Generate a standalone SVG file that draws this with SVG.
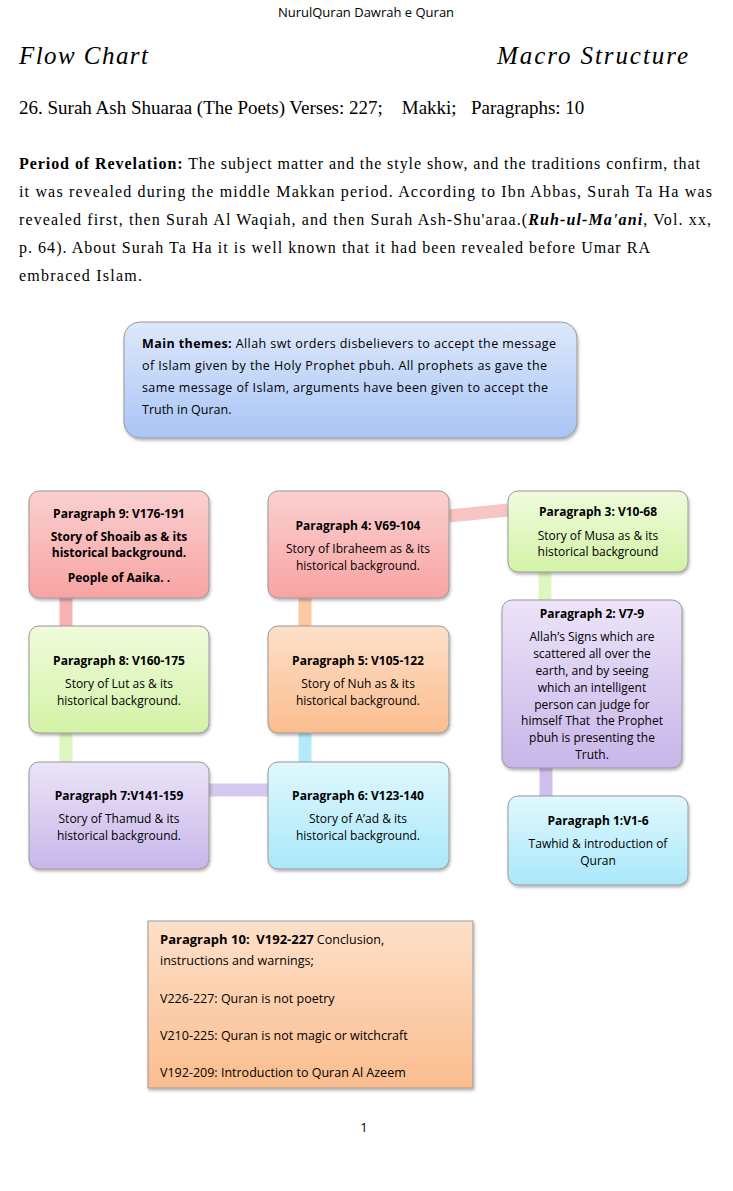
<svg xmlns="http://www.w3.org/2000/svg" width="733" height="1191" viewBox="0 0 733 1191">
<defs>
<linearGradient id="gBlue" x1="0" y1="0" x2="0" y2="1"><stop offset="0" stop-color="#dde8fb"/><stop offset="1" stop-color="#a9c5f5"/></linearGradient>
<linearGradient id="gRed" x1="0" y1="0" x2="0" y2="1"><stop offset="0" stop-color="#fbd0d0"/><stop offset="1" stop-color="#f8a3a3"/></linearGradient>
<linearGradient id="gGreen" x1="0" y1="0" x2="0" y2="1"><stop offset="0" stop-color="#f0fbdc"/><stop offset="1" stop-color="#d3f3a6"/></linearGradient>
<linearGradient id="gOrange" x1="0" y1="0" x2="0" y2="1"><stop offset="0" stop-color="#fde0c9"/><stop offset="1" stop-color="#fbbd8e"/></linearGradient>
<linearGradient id="gPurple" x1="0" y1="0" x2="0" y2="1"><stop offset="0" stop-color="#ece4f8"/><stop offset="1" stop-color="#c8b6ea"/></linearGradient>
<linearGradient id="gCyan" x1="0" y1="0" x2="0" y2="1"><stop offset="0" stop-color="#e0f8fe"/><stop offset="1" stop-color="#a9e8fa"/></linearGradient>
<filter id="sh" x="-10%" y="-10%" width="125%" height="130%"><feDropShadow dx="1" dy="2" stdDeviation="1.5" flood-color="#000" flood-opacity="0.3"/></filter>
</defs>
<style>
.hdr{font-family:"Open Sans","Liberation Sans",sans-serif;font-size:13px;fill:#000}
.cur{font-family:"Liberation Serif",serif;font-style:italic;font-size:25px;fill:#000}
.ser{font-family:"Liberation Serif",serif;font-size:19px;fill:#000;white-space:pre}
.body{font-family:"Liberation Serif",serif;font-size:16px;fill:#000}
.t{font-family:"Open Sans","Liberation Sans",sans-serif;font-size:12px;fill:#000;text-anchor:middle}
.tb{font-weight:bold}
.l{font-family:"Open Sans","Liberation Sans",sans-serif;font-size:12.5px;fill:#000}
.box{stroke:#999;stroke-width:1;filter:url(#sh)}
</style>
<rect width="733" height="1191" fill="#fff"/>
<text class="hdr" x="366" y="17" text-anchor="middle">NurulQuran Dawrah e Quran</text>
<text class="cur" x="19" y="64" textLength="129">Flow Chart</text>
<text class="cur" x="497" y="64" textLength="191">Macro Structure</text>
<text class="ser" x="19" y="114" xml:space="preserve">26. Surah Ash Shuaraa (The Poets) Verses: 227;    Makki;   Paragraphs: 10</text>
<text class="body" x="19" y="169" textLength="681"><tspan font-weight="bold">Period of Revelation:</tspan> The subject matter and the style show, and the traditions confirm, that</text>
<text class="body" x="19" y="197" textLength="693">it was revealed during the middle Makkan period. According to Ibn Abbas, Surah Ta Ha was</text>
<text class="body" x="19" y="225" textLength="692">revealed first, then Surah Al Waqiah, and then Surah Ash-Shu'araa.(<tspan font-style="italic" font-weight="bold">Ruh-ul-Ma'ani</tspan>, Vol. xx,</text>
<text class="body" x="19" y="253" textLength="631">p. 64). About Surah Ta Ha it is well known that it had been revealed before Umar RA</text>
<text class="body" x="19" y="281" textLength="123">embraced Islam.</text>

<g id="connectors">
<line x1="66" y1="598" x2="66" y2="626" stroke="#f7b3b3" stroke-width="13"/>
<line x1="66" y1="733" x2="66" y2="762" stroke="#def7c0" stroke-width="13"/>
<line x1="305" y1="598" x2="305" y2="626" stroke="#fbc9a3" stroke-width="13"/>
<line x1="305" y1="733" x2="305" y2="762" stroke="#b3eaf9" stroke-width="13"/>
<line x1="209" y1="790" x2="268" y2="790" stroke="#d6c9f0" stroke-width="13"/>
<line x1="449" y1="516" x2="508" y2="510" stroke="#f8c4c4" stroke-width="13"/>
<line x1="545" y1="572" x2="545" y2="600" stroke="#def7c0" stroke-width="13"/>
<line x1="546" y1="768" x2="546" y2="796" stroke="#cfbfee" stroke-width="13"/>
</g>

<g id="main">
<rect class="box" x="124" y="322" width="453" height="116" rx="16" fill="url(#gBlue)"/>
<text class="l" x="142" y="348" textLength="414"><tspan font-weight="bold">Main themes:</tspan>  Allah swt orders disbelievers to accept the message</text>
<text class="l" x="142" y="370" textLength="405">of Islam given by the Holy Prophet pbuh. All prophets as gave the</text>
<text class="l" x="142" y="392" textLength="406">same message of Islam, arguments have been given to accept the</text>
<text class="l" x="142" y="414">Truth in Quran.</text>
</g>

<g id="p9">
<rect class="box" x="29" y="491" width="180" height="107" rx="10" fill="url(#gRed)"/>
<text class="t tb" x="119" y="518">Paragraph 9: V176-191</text>
<text class="t tb" x="119" y="541">Story of Shoaib as &amp; its</text>
<text class="t tb" x="119" y="557">historical background.</text>
<text class="t tb" x="119" y="582">People of Aaika. .</text>
</g>
<g id="p4">
<rect class="box" x="268" y="491" width="181" height="107" rx="10" fill="url(#gRed)"/>
<text class="t tb" x="358" y="530">Paragraph 4: V69-104</text>
<text class="t" x="358" y="553">Story of Ibraheem as &amp; its</text>
<text class="t" x="358" y="570">historical background.</text>
</g>
<g id="p3">
<rect class="box" x="508" y="491" width="180" height="81" rx="10" fill="url(#gGreen)"/>
<text class="t tb" x="598" y="516">Paragraph 3: V10-68</text>
<text class="t" x="598" y="540">Story of Musa as &amp; its</text>
<text class="t" x="598" y="556">historical background</text>
</g>
<g id="p8">
<rect class="box" x="29" y="626" width="180" height="107" rx="10" fill="url(#gGreen)"/>
<text class="t tb" x="119" y="665">Paragraph 8: V160-175</text>
<text class="t" x="119" y="688">Story of Lut as &amp; its</text>
<text class="t" x="119" y="705">historical background.</text>
</g>
<g id="p5">
<rect class="box" x="268" y="626" width="181" height="107" rx="10" fill="url(#gOrange)"/>
<text class="t tb" x="358" y="665">Paragraph 5: V105-122</text>
<text class="t" x="358" y="688">Story of Nuh as &amp; its</text>
<text class="t" x="358" y="705">historical background.</text>
</g>
<g id="p2">
<rect class="box" x="502" y="600" width="180" height="168" rx="10" fill="url(#gPurple)"/>
<text class="t tb" x="592" y="618">Paragraph 2: V7-9</text>
<text class="t" x="592" y="641">Allah’s Signs which are</text>
<text class="t" x="592" y="658">scattered all over the</text>
<text class="t" x="592" y="675">earth, and by seeing</text>
<text class="t" x="592" y="692">which an intelligent</text>
<text class="t" x="592" y="709">person can judge for</text>
<text class="t" x="592" y="725" xml:space="preserve" style="white-space:pre">himself That  the Prophet</text>
<text class="t" x="592" y="742">pbuh is presenting the</text>
<text class="t" x="592" y="759">Truth.</text>
</g>
<g id="p7">
<rect class="box" x="29" y="762" width="180" height="107" rx="10" fill="url(#gPurple)"/>
<text class="t tb" x="119" y="800">Paragraph 7:V141-159</text>
<text class="t" x="119" y="823">Story of Thamud &amp; its</text>
<text class="t" x="119" y="840">historical background.</text>
</g>
<g id="p6">
<rect class="box" x="268" y="762" width="181" height="107" rx="10" fill="url(#gCyan)"/>
<text class="t tb" x="358" y="800">Paragraph 6: V123-140</text>
<text class="t" x="358" y="823">Story of A’ad &amp; its</text>
<text class="t" x="358" y="840">historical background.</text>
</g>
<g id="p1">
<rect class="box" x="508" y="796" width="180" height="89" rx="10" fill="url(#gCyan)"/>
<text class="t tb" x="598" y="825">Paragraph 1:V1-6</text>
<text class="t" x="598" y="848">Tawhid &amp; introduction of</text>
<text class="t" x="598" y="865">Quran</text>
</g>
<g id="p10">
<rect class="box" x="148" y="921" width="325" height="167" fill="url(#gOrange)"/>
<text class="l" x="160" y="944" xml:space="preserve" style="white-space:pre"><tspan font-weight="bold" font-size="13">Paragraph 10:  V192-227</tspan> Conclusion,</text>
<text class="l" x="160" y="965">instructions and warnings;</text>
<text class="l" x="160" y="1003">V226-227: Quran is not poetry</text>
<text class="l" x="160" y="1040">V210-225: Quran is not magic or witchcraft</text>
<text class="l" x="160" y="1077">V192-209: Introduction to Quran Al Azeem</text>
</g>
<text class="hdr" x="364" y="1132" text-anchor="middle">1</text>
</svg>
